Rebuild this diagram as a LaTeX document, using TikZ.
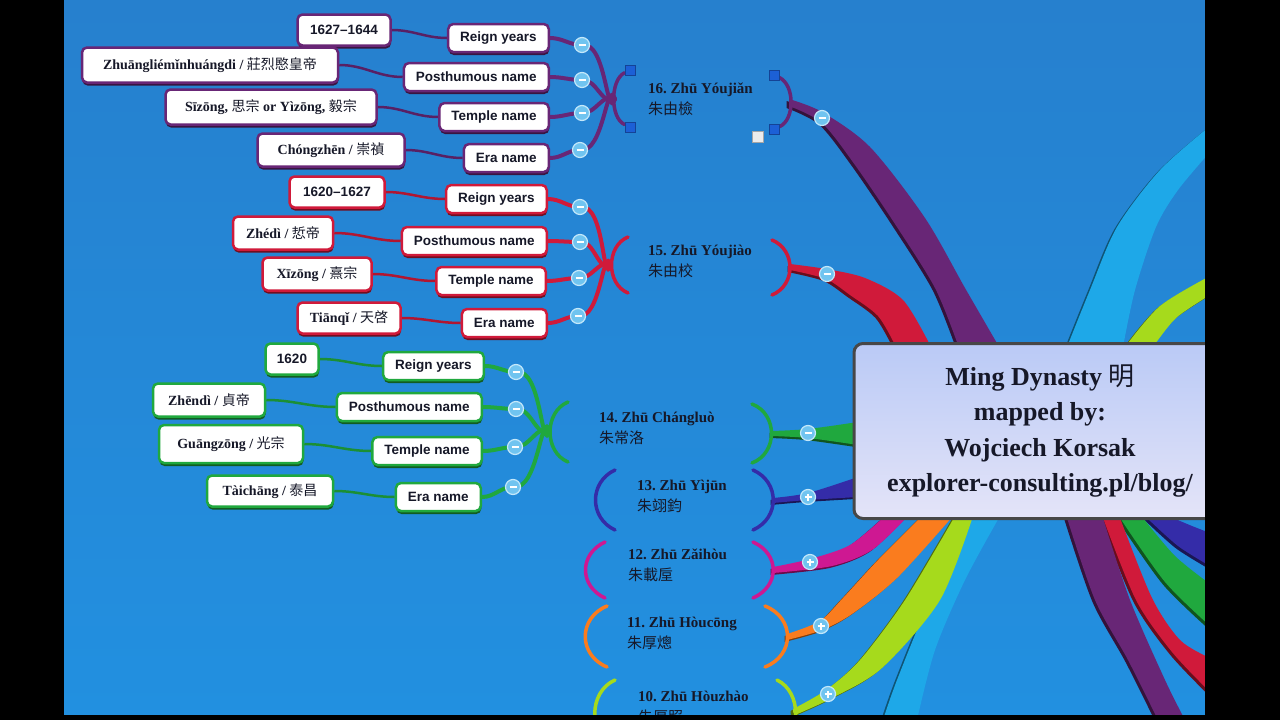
\documentclass[tikz,border=0pt]{standalone}
\usepackage{fontspec}
\setmainfont{Liberation Serif}
\setsansfont{Liberation Sans}
\newfontfamily\zhfont{Noto Sans CJK TC}
\newcommand{\zh}[1]{{\zhfont\mdseries #1}}
\usepackage{xcolor}
\usetikzlibrary{calc, shadows}
\pgfdeclarelayer{back}
\pgfdeclarelayer{wires}
\pgfsetlayers{back,wires,main}
\frenchspacing

\definecolor{mapbluetop}{RGB}{38,128,206}
\definecolor{mapbluebot}{RGB}{34,144,224}
\definecolor{purple16}{RGB}{104,38,118}
\definecolor{red15}{RGB}{208,26,58}
\definecolor{green14}{RGB}{32,168,62}
\definecolor{indigo13}{RGB}{52,44,168}
\definecolor{magenta12}{RGB}{206,24,146}
\definecolor{orange11}{RGB}{250,124,30}
\definecolor{lime10}{RGB}{166,218,28}
\definecolor{sky}{RGB}{30,168,232}
\definecolor{knobfill}{RGB}{112,196,240}
\definecolor{knobring}{RGB}{196,232,250}
\definecolor{handle}{RGB}{28,96,214}
\definecolor{hubtop}{RGB}{186,202,246}
\definecolor{hubbot}{RGB}{228,228,248}
\definecolor{inkdark}{RGB}{22,24,40}

\tikzset{
    attrbox/.style={rectangle, rounded corners=5pt, fill=white, draw=#1, line width=2.5pt,
        drop shadow={shadow xshift=0.5pt, shadow yshift=-3pt, fill=#1!55!black, opacity=1},
        font=\sffamily\bfseries\fontsize{13.5}{15}\selectfont, text=inkdark,
        minimum height=28pt, inner xsep=12pt, inner ysep=1pt, anchor=east},
    valbox/.style={attrbox=#1, font=\bfseries\fontsize{14}{16}\selectfont,
        minimum height=31pt, inner xsep=8pt, anchor=center},
    yearbox/.style={valbox=#1, font=\sffamily\bfseries\fontsize{13.5}{15}\selectfont},
    king/.style={align=left, anchor=north west, inner sep=0pt, text=inkdark,
        font=\bfseries\fontsize{15}{21}\selectfont},
    twig/.style={draw=#1!85!black, line width=2.5pt},
    limb/.style={draw=#1, line width=4pt, line cap=round},
    curl/.style={draw=#1, line width=3.5pt, line cap=round},
    ribbon/.style={fill=#1, preaction={fill=#1!50!black, transform canvas={shift={(-2.5pt,-2pt)}}}},
    knob/.style={circle, fill=knobfill, draw=knobring, line width=1.2pt,
        minimum size=15pt, inner sep=0pt},
    foldknob/.style={knob, path picture={\draw[white, line width=2pt]
        ([xshift=4pt]path picture bounding box.west) -- ([xshift=-4pt]path picture bounding box.east);}},
    openknob/.style={knob, path picture={\draw[white, line width=2pt]
        ([xshift=4pt]path picture bounding box.west) -- ([xshift=-4pt]path picture bounding box.east)
        ([yshift=4pt]path picture bounding box.south) -- ([yshift=-4pt]path picture bounding box.north);}},
    grip/.style={rectangle, fill=handle, draw=handle!70!black, line width=0.8pt, minimum size=10pt, inner sep=0pt},
    hub/.style={rectangle, rounded corners=9pt, draw=black!72, line width=3pt,
        top color=hubtop, bottom color=hubbot, align=center, text=inkdark,
        minimum width=372pt, minimum height=175pt,
        font=\bfseries\fontsize{26}{35.5}\selectfont},
}

\begin{document}
\begin{tikzpicture}[x=1pt, y=-1pt]
    \useasboundingbox (0,0) rectangle (1280,720);

    % --- the hub
    \node[hub] (hub) at (1040,431) {Ming Dynasty \zh{明}\\mapped by:\\Wojciech Korsak\\explorer-consulting.pl/blog/};

    % --- 16. Zhu Youjian
    \node[attrbox=purple16] (reign16) at (550,38) {Reign years};
    \node[attrbox=purple16] (posth16) at (550,77) {Posthumous name};
    \node[attrbox=purple16] (temple16) at (550,117) {Temple name};
    \node[attrbox=purple16] (era16) at (550,158) {Era name};
    \node[yearbox=purple16, minimum width=93pt] (reign16v) at (344,30) {1627–1644};
    \node[valbox=purple16, minimum width=256pt, minimum height=35pt] (posth16v) at (210,65) {Zhuāngliémǐnhuángdi / \zh{莊烈愍皇帝}};
    \node[valbox=purple16, minimum width=211pt, minimum height=35pt] (temple16v) at (271,107) {Sīzōng, \zh{思宗} or Yìzōng, \zh{毅宗}};
    \node[valbox=purple16, minimum width=147pt, minimum height=33pt] (era16v) at (331,150) {Chóngzhēn / \zh{崇禎}};
    \node[king] (k16) at (648,83) {16. Zhū Yóujiǎn\\\zh{朱由檢}};
    \node[foldknob] (f16a) at (582,45) {};
    \node[foldknob] (f16b) at (582,80) {};
    \node[foldknob] (f16c) at (582,113) {};
    \node[foldknob] (f16d) at (580,150) {};
    \node[foldknob] (kr16) at (822,118) {};
    \node[grip] (g16a) at (630,70) {};
    \node[grip] (g16b) at (630,127) {};
    \node[grip] (g16c) at (774,75) {};
    \node[grip] (g16d) at (774,129) {};
    \node[rectangle, fill=gray!15, draw=gray!70, line width=1pt, minimum size=11pt, inner sep=0pt] (note16) at (758,137) {};
    \coordinate (j16) at (615,99);
    \coordinate (r16) at (789,102);

    % --- 15. Zhu Youjiao
    \node[attrbox=red15] (reign15) at (548,199) {Reign years};
    \node[attrbox=red15] (posth15) at (548,241) {Posthumous name};
    \node[attrbox=red15] (temple15) at (547,281) {Temple name};
    \node[attrbox=red15] (era15) at (548,323) {Era name};
    \node[yearbox=red15, minimum width=95pt] (reign15v) at (337,192) {1620–1627};
    \node[valbox=red15, minimum width=100pt, minimum height=33pt] (posth15v) at (283,233) {Zhédì / \zh{悊帝}};
    \node[valbox=red15, minimum width=109pt, minimum height=33pt] (temple15v) at (317,274) {Xīzōng / \zh{熹宗}};
    \node[valbox=red15, minimum width=103pt] (era15v) at (349,318) {Tiānqǐ / \zh{天啓}};
    \node[king] (k15) at (648,245) {15. Zhū Yóujiào\\\zh{朱由校}};
    \node[foldknob] (f15a) at (580,207) {};
    \node[foldknob] (f15b) at (580,242) {};
    \node[foldknob] (f15c) at (579,278) {};
    \node[foldknob] (f15d) at (578,316) {};
    \node[foldknob] (kr15) at (827,274) {};
    \coordinate (j15) at (611,265);
    \coordinate (r15) at (790,267);

    % --- 14. Zhu Changluo
    \node[attrbox=green14] (reign14) at (485,366) {Reign years};
    \node[attrbox=green14] (posth14) at (483,407) {Posthumous name};
    \node[attrbox=green14] (temple14) at (483,451) {Temple name};
    \node[attrbox=green14] (era14) at (482,497) {Era name};
    \node[yearbox=green14, minimum width=53pt] (reign14v) at (292,359) {1620};
    \node[valbox=green14, minimum width=112pt, minimum height=33pt] (posth14v) at (209,400) {Zhēndì / \zh{貞帝}};
    \node[valbox=green14, minimum width=144pt, minimum height=38pt] (temple14v) at (231,444) {Guāngzōng / \zh{光宗}};
    \node[valbox=green14, minimum width=126pt] (era14v) at (270,491) {Tàichāng / \zh{泰昌}};
    \node[king] (k14) at (599,412) {14. Zhū Chángluò\\\zh{朱常洛}};
    \node[foldknob] (f14a) at (516,372) {};
    \node[foldknob] (f14b) at (516,409) {};
    \node[foldknob] (f14c) at (515,447) {};
    \node[foldknob] (f14d) at (513,487) {};
    \node[foldknob] (kr14) at (808,433) {};
    \coordinate (j14) at (550,431);
    \coordinate (r14) at (772,434);

    % --- 13 to 10, folded
    \node[king] (k13) at (637,480) {13. Zhū Yìjūn\\\zh{朱翊鈞}};
    \node[king] (k12) at (628,549) {12. Zhū Zǎihòu\\\zh{朱載垕}};
    \node[king] (k11) at (627,617) {11. Zhū Hòucōng\\\zh{朱厚熜}};
    \node[king] (k10) at (638,691) {10. Zhū Hòuzhào\\\zh{朱厚照}};
    \node[openknob] (kr13) at (808,497) {};
    \node[openknob] (kr12) at (810,562) {};
    \node[openknob] (kr11) at (821,626) {};
    \node[openknob] (kr10) at (828,694) {};
    \coordinate (r13) at (773,500);
    \coordinate (r12) at (773,570);
    \coordinate (r11) at (787,637);
    \coordinate (r10) at (793,712);

    % --- background and ribbons
    \begin{pgfonlayer}{back}
        \fill[black] (0,0) rectangle (1280,720);
        \shade[top color=mapbluetop, bottom color=mapbluebot] (64,0) rectangle (1205,715);
        \fill[ribbon=sky] plot[smooth] coordinates {(1067,347) (1090,290) (1117,227) (1160,170) (1210,126)}
            -- plot[smooth] coordinates {(1210,152) (1178,190) (1156,227) (1135,290) (1123,347)} -- cycle;
        \fill[ribbon=lime10] plot[smooth] coordinates {(1125,347) (1160,306) (1210,276)}
            -- plot[smooth] coordinates {(1210,295) (1176,318) (1153,347)} -- cycle;
        \fill[ribbon=sky] plot[smooth] coordinates {(973,516) (930,600) (897,680) (883,720)}
            -- plot[smooth] coordinates {(917,720) (935,650) (965,580) (1000,516)} -- cycle;
        \fill[ribbon=lime10] (r10) -- plot[smooth] coordinates {(793,709) (826,690) (860,660) (905,600) (955,516)}
            -- plot[smooth] coordinates {(973,516) (940,600) (882,668) (832,698) (795,715)} -- cycle;
        \fill[ribbon=orange11] (r11) -- plot[smooth] coordinates {(787,634) (820,621) (843,598) (878,560) (922,516)}
            -- plot[smooth] coordinates {(953,516) (897,578) (852,614) (822,630) (787,640)} -- cycle;
        \fill[ribbon=magenta12] (r12) -- plot[smooth] coordinates {(773,567) (810,559) (850,545) (885,516)}
            -- plot[smooth] coordinates {(908,516) (872,550) (832,566) (773,573)} -- cycle;
        \fill[ribbon=indigo13] (r13) -- plot[smooth] coordinates {(773,498) (808,493) (858,477)}
            -- plot[smooth] coordinates {(1173,518) (1192,526) (1210,533)}
            -- plot[smooth] coordinates {(1210,566) (1178,546) (1147,518)}
            -- plot[smooth] coordinates {(858,497) (808,500) (773,503)} -- cycle;
        \fill[ribbon=green14] (r14) -- plot[smooth] coordinates {(772,431) (808,429) (858,422)}
            -- plot[smooth] coordinates {(1143,518) (1175,556) (1210,584)}
            -- plot[smooth] coordinates {(1210,626) (1165,582) (1120,518)}
            -- plot[smooth] coordinates {(858,445) (808,438) (772,436)} -- cycle;
        \fill[ribbon=red15] (r15) -- plot[smooth] coordinates {(790,264) (826,269) (865,278) (903,300) (930,345)}
            -- plot[smooth] coordinates {(1120,518) (1152,598) (1180,640) (1210,658)}
            -- plot[smooth] coordinates {(1210,692) (1172,652) (1136,600) (1103,518)}
            -- plot[smooth] coordinates {(895,345) (878,316) (850,295) (826,279) (790,270)} -- cycle;
        \fill[ribbon=purple16] (r16) -- plot[smooth] coordinates {(789,99) (822,112) (870,147) (925,218) (965,288) (998,345)}
            -- plot[smooth] coordinates {(1103,518) (1130,600) (1165,680) (1185,720)}
            -- plot[smooth] coordinates {(1158,720) (1128,660) (1095,600) (1067,518)}
            -- plot[smooth] coordinates {(958,345) (935,288) (895,224) (855,165) (822,123) (789,106)} -- cycle;
    \end{pgfonlayer}

    % --- branches and brackets
    \begin{pgfonlayer}{wires}
        \draw[twig=purple16] (reign16v.east) to[out=0,in=180] (reign16.west);
        \draw[twig=purple16] (posth16v.east) to[out=0,in=180] (posth16.west);
        \draw[twig=purple16] (temple16v.east) to[out=0,in=180] (temple16.west);
        \draw[twig=purple16] (era16v.east) to[out=0,in=180] (era16.west);
        \draw[limb=purple16] (reign16.east) to[out=0,in=180] (f16a.center) to[out=10,in=-110] (j16);
        \draw[limb=purple16] (posth16.east) to[out=0,in=180] (f16b.center) to[out=5,in=-150] (j16);
        \draw[limb=purple16] (temple16.east) to[out=0,in=180] (f16c.center) to[out=-5,in=150] (j16);
        \draw[limb=purple16] (era16.east) to[out=0,in=180] (f16d.center) to[out=-10,in=110] (j16);
        \draw[curl=purple16] (g16a) .. controls (610,80) and (610,118) .. (g16b);
        \draw[curl=purple16] (g16c) .. controls (795,85) and (795,120) .. (g16d);

        \draw[twig=red15] (reign15v.east) to[out=0,in=180] (reign15.west);
        \draw[twig=red15] (posth15v.east) to[out=0,in=180] (posth15.west);
        \draw[twig=red15] (temple15v.east) to[out=0,in=180] (temple15.west);
        \draw[twig=red15] (era15v.east) to[out=0,in=180] (era15.west);
        \draw[limb=red15] (reign15.east) to[out=0,in=180] (f15a.center) to[out=10,in=-110] (j15);
        \draw[limb=red15] (posth15.east) to[out=0,in=180] (f15b.center) to[out=5,in=-150] (j15);
        \draw[limb=red15] (temple15.east) to[out=0,in=180] (f15c.center) to[out=-5,in=150] (j15);
        \draw[limb=red15] (era15.east) to[out=0,in=180] (f15d.center) to[out=-10,in=110] (j15);
        \draw[curl=red15] (628,237) .. controls (606,246) and (606,284) .. (628,293);
        \draw[curl=red15] (772,240) .. controls (796,250) and (796,285) .. (772,295);

        \draw[twig=green14] (reign14v.east) to[out=0,in=180] (reign14.west);
        \draw[twig=green14] (posth14v.east) to[out=0,in=180] (posth14.west);
        \draw[twig=green14] (temple14v.east) to[out=0,in=180] (temple14.west);
        \draw[twig=green14] (era14v.east) to[out=0,in=180] (era14.west);
        \draw[limb=green14] (reign14.east) to[out=0,in=180] (f14a.center) to[out=10,in=-110] (j14);
        \draw[limb=green14] (posth14.east) to[out=0,in=180] (f14b.center) to[out=5,in=-150] (j14);
        \draw[limb=green14] (temple14.east) to[out=0,in=180] (f14c.center) to[out=-5,in=150] (j14);
        \draw[limb=green14] (era14.east) to[out=0,in=180] (f14d.center) to[out=-10,in=110] (j14);
        \draw[curl=green14] (568,402) .. controls (544,412) and (544,452) .. (568,462);
        \draw[curl=green14] (752,404) .. controls (778,414) and (778,453) .. (752,463);

        \draw[curl=indigo13] (615,470) .. controls (589,482) and (589,518) .. (615,530);
        \draw[curl=indigo13] (753,470) .. controls (780,482) and (780,518) .. (753,530);
        \draw[curl=magenta12] (605,542) .. controls (579,554) and (579,586) .. (605,598);
        \draw[curl=magenta12] (753,542) .. controls (780,554) and (780,586) .. (753,598);
        \draw[curl=orange11] (607,606) .. controls (578,618) and (578,655) .. (607,667);
        \draw[curl=orange11] (765,606) .. controls (795,618) and (795,655) .. (765,667);
        \draw[curl=lime10] (615,680) .. controls (588,692) and (588,735) .. (615,750);
        \draw[curl=lime10] (777,680) .. controls (802,692) and (802,735) .. (777,750);
    \end{pgfonlayer}

    % --- screen frame
    \fill[black] (0,0) rectangle (64,720);
    \fill[black] (1205,0) rectangle (1280,720);
    \fill[black] (64,715) rectangle (1205,720);
\end{tikzpicture}
\end{document}
